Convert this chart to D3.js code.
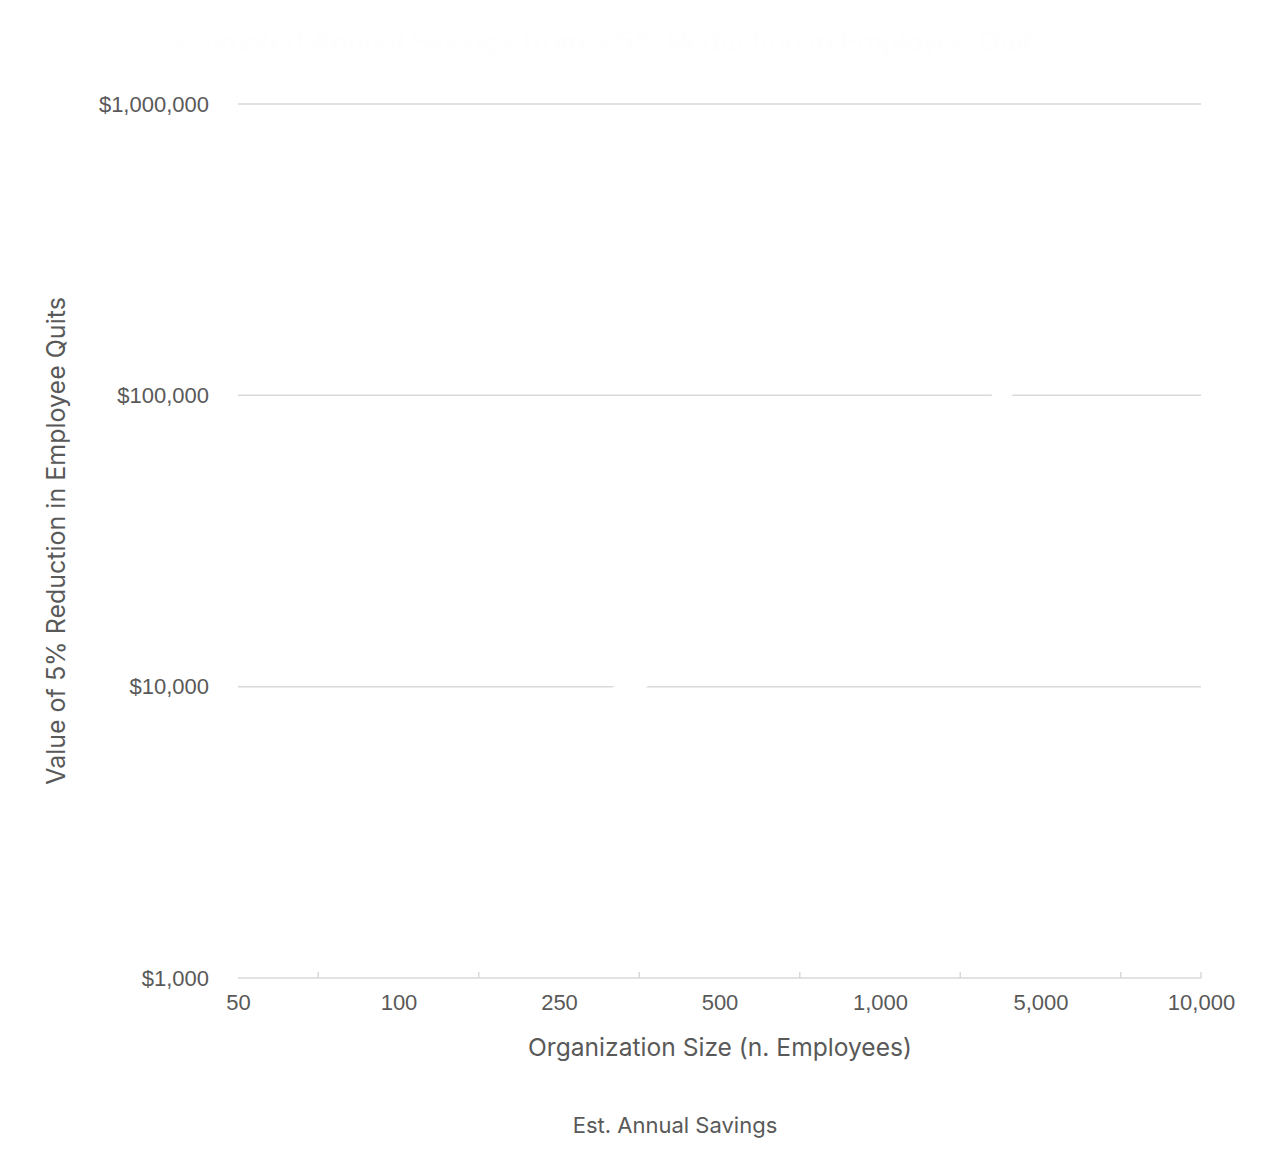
<!DOCTYPE html>
<html>
<head>
<meta charset="utf-8">
<script src="https://cdn.jsdelivr.net/npm/d3@7"></script>
<style>
    body { margin: 0; background: #ffffff; }
    svg { display: block; }
</style>
</head>
<body>
<svg id="chart" width="1280" height="1174"></svg>
<script>
const orgSizes = ['50', '100', '250', '500', '1,000', '5,000', '10,000']
const savings = [1470, 2940, 7350, 14700, 29400, 147000, 294000]
const yTicks = [1000, 10000, 100000, 1000000]
const seriesName = 'Est. Annual Savings'
const chartTitle = 'Estimated Annual Savings from a 5% Reduction in Employee Quits'

const textColour = '#595959'
const gridColour = '#d9d9d9'
const lineColour = '#ffffff'

const svg = d3.select('#chart')
const plotLeft = 238, plotRight = 1201, plotTop = 104, plotBottom = 978

const x = d3.scalePoint().domain(orgSizes).range([plotLeft, plotRight])
const y = d3.scaleLog().domain([1000, 1000000]).range([plotBottom, plotTop])

// title (drawn white like the original)
svg.append('text')
    .attr('x', 610).attr('y', 52)
    .attr('text-anchor', 'middle')
    .style('font-family', 'Inter, "Noto Sans", sans-serif')
    .style('font-size', '28px')
    .attr('fill', '#fefefe')
    .text(chartTitle)

// gridlines
svg.append('g')
    .selectAll('line')
    .data(yTicks.slice(1))
    .join('line')
    .attr('x1', plotLeft).attr('x2', plotRight)
    .attr('y1', d => y(d)).attr('y2', d => y(d))
    .attr('stroke', gridColour)
    .attr('stroke-width', 1.5)

// y axis labels
svg.append('g')
    .attr('transform', `translate(${plotLeft}, 0)`)
    .style('font-family', '"Liberation Sans", Arial, sans-serif')
    .style('font-size', '22px')
    .call(d3.axisLeft(y).tickValues(yTicks).tickSize(0).tickPadding(29)
        .tickFormat(d => '$' + d3.format(',')(d)))
    .call(g => g.select('.domain').remove())
    .call(g => g.selectAll('text').attr('fill', textColour))

// x axis line, ticks between categories
const step = x.step()
const tickXs = orgSizes.slice(0, -1).map(d => x(d) + step / 2).concat([plotRight])
const xg = svg.append('g').attr('transform', `translate(0, ${plotBottom})`)
xg.append('line')
    .attr('x1', plotLeft).attr('x2', plotRight)
    .attr('stroke', gridColour).attr('stroke-width', 1.5)
xg.selectAll('.minor')
    .data(tickXs)
    .join('line')
    .attr('class', 'minor')
    .attr('x1', d => d).attr('x2', d => d)
    .attr('y1', -6).attr('y2', 0)
    .attr('stroke', gridColour).attr('stroke-width', 1.5)
xg.append('g')
    .style('font-family', '"Liberation Sans", Arial, sans-serif')
    .style('font-size', '22px')
    .call(d3.axisBottom(x).tickSize(0).tickPadding(16))
    .call(g => g.select('.domain').remove())
    .call(g => g.selectAll('text').attr('fill', textColour))

// axis titles
svg.append('text')
    .attr('x', 720).attr('y', 1056)
    .attr('text-anchor', 'middle')
    .style('font-family', 'Inter, "Noto Sans", sans-serif')
    .style('font-size', '24.6px')
    .attr('fill', textColour)
    .text('Organization Size (n. Employees)')

svg.append('text')
    .attr('transform', `translate(65, ${(plotTop + plotBottom) / 2}) rotate(-90)`)
    .attr('text-anchor', 'middle')
    .style('font-family', 'Inter, "Noto Sans", sans-serif')
    .style('font-size', '25px')
    .attr('fill', textColour)
    .text('Value of 5% Reduction in Employee Quits')

// the series line (white, only visible where it cuts the gridlines)
const line = d3.line()
    .x((d, i) => x(orgSizes[i]))
    .y(d => y(d))
svg.append('path')
    .datum(savings)
    .attr('d', line)
    .attr('fill', 'none')
    .attr('stroke', lineColour)
    .attr('stroke-width', 16)
    .attr('stroke-linecap', 'round')

// legend
const lg = svg.append('g').attr('transform', 'translate(675, 1125)')
lg.append('line')
    .attr('x1', -150).attr('x2', -110)
    .attr('stroke', lineColour).attr('stroke-width', 6)
lg.append('text')
    .attr('text-anchor', 'middle')
    .attr('dy', '0.35em')
    .style('font-family', 'Inter, "Noto Sans", sans-serif')
    .style('font-size', '22px')
    .attr('fill', textColour)
    .text(seriesName)
</script>
</body>
</html>
